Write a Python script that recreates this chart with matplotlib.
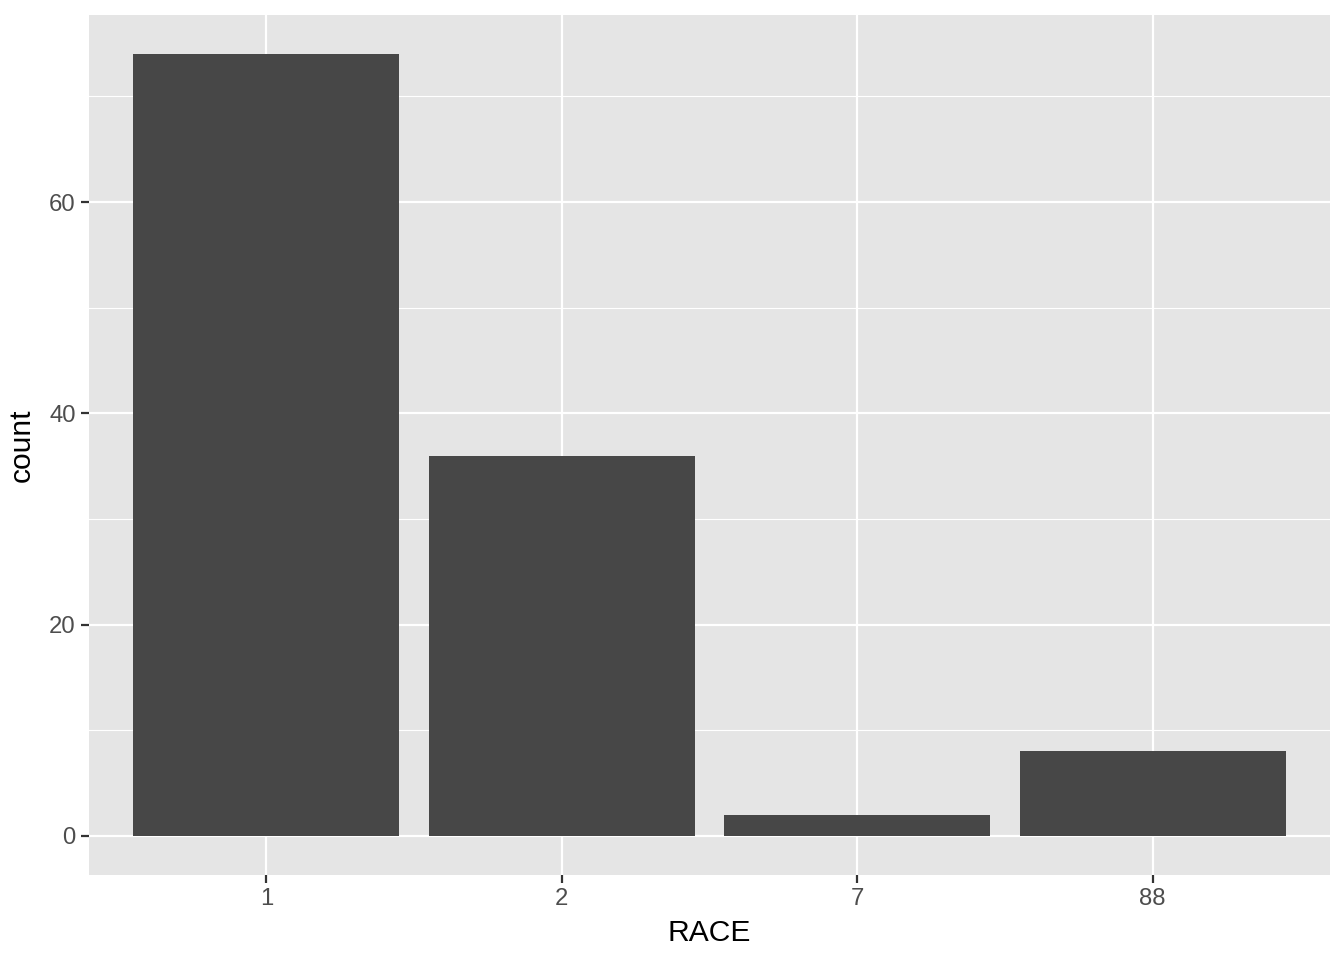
import matplotlib
matplotlib.use("Agg")
import matplotlib.pyplot as plt
from matplotlib.ticker import MultipleLocator

categories = ["1", "2", "7", "88"]
counts = [74, 36, 2, 8]
y_ticks = [0, 20, 40, 60]

plt.rcParams['font.family'] = ['Liberation Sans', 'DejaVu Sans']

fig = plt.figure(figsize=(6.72, 4.8), dpi=200)
ax = fig.add_axes([89/1344, 1 - 875/960, (1330-89)/1344, (875-15)/960])
ax.set_facecolor("#E5E5E5")

x = list(range(1, len(categories) + 1))
ax.bar(x, counts, width=0.9, color="#474747", zorder=3)

ymax = max(counts)
ax.set_ylim(-0.05 * ymax, 1.05 * ymax)
ax.set_xlim(0.4, len(categories) + 0.6)
ax.set_xticks(x)
ax.set_xticklabels(categories)
ax.set_yticks(y_ticks)
ax.yaxis.set_minor_locator(MultipleLocator(10))

ax.grid(which="major", color="white", linewidth=1.07*0.75, zorder=1)
ax.grid(which="minor", axis="y", color="white", linewidth=0.53*0.75, zorder=1)
ax.set_axisbelow(True)

for s in ax.spines.values():
    s.set_visible(False)

ax.tick_params(axis="both", which="major", length=2.75, width=0.8, color="#333333",
               labelcolor="#4D4D4D", labelsize=8.6, pad=2)
ax.tick_params(axis="y", which="minor", length=0)

ax.set_xlabel("RACE", fontsize=10.8, color="black", labelpad=3)
ax.set_ylabel("count", fontsize=10.8, color="black", labelpad=5)

fig.savefig("out.png", dpi=200, facecolor="white")
